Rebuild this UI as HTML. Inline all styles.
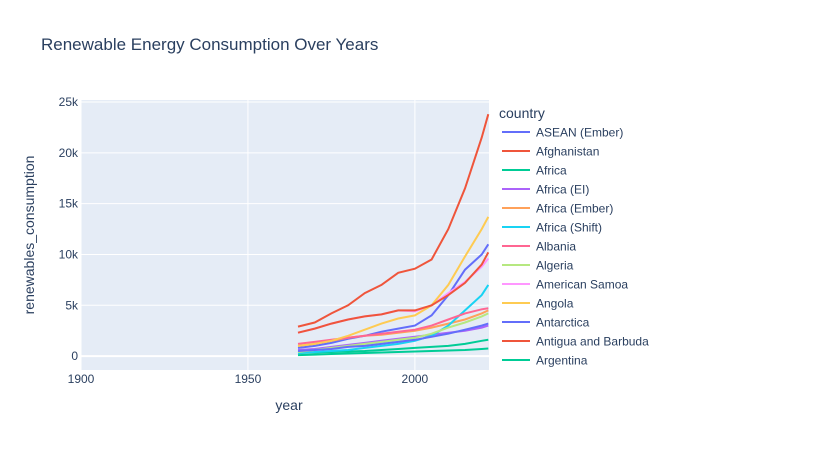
<!DOCTYPE html>
<html><head><meta charset="utf-8"><style>
body{margin:0;background:#fff;font-family:"Liberation Sans",sans-serif}
svg text{font-family:"Liberation Sans",sans-serif;fill:#2a3f5f}
</style></head><body>
<svg id="chart" width="834" height="450">
<text x="41" y="50" font-size="17">Renewable Energy Consumption Over Years</text>
<rect x="81" y="100" width="408" height="270" fill="#e5ecf6"/>
<g id="grid"></g><g id="lines"></g><g id="ticks"></g>
<text x="289" y="410" font-size="14" text-anchor="middle">year</text>
<text transform="translate(34,235) rotate(-90)" font-size="14" text-anchor="middle">renewables_consumption</text>
<text x="499" y="118" font-size="14">country</text>
<g id="legend"></g>
</svg>
<script>
const years=[1965,1970,1975,1980,1985,1990,1995,2000,2005,2010,2015,2020,2022];
const countries=["ASEAN (Ember)","Afghanistan","Africa","Africa (EI)","Africa (Ember)","Africa (Shift)","Albania","Algeria","American Samoa","Angola","Antarctica","Antigua and Barbuda","Argentina"];
const xTicks=[1900,1950,2000];
const yTicks=[0,5000,10000,15000,20000,25000];
const yTickLabels=["0","5k","10k","15k","20k","25k"];
const seriesA=[0.8,1.0,1.3,1.7,2.0,2.4,2.7,3.0,4.0,6.0,8.5,10.0,11.0];
const seriesB=[2.9,3.3,4.2,5.0,6.2,7.0,8.2,8.6,9.5,12.5,16.5,21.5,23.8];
const seriesC=[0.3,0.35,0.4,0.45,0.5,0.6,0.7,0.8,0.9,1.0,1.2,1.5,1.6];
const seriesD=[0.6,0.7,0.9,1.1,1.3,1.5,1.7,1.9,2.1,2.3,2.5,2.8,3.0];
const seriesE=[1.0,1.2,1.5,1.8,2.0,2.1,2.3,2.5,2.8,3.2,3.6,4.2,4.5];
const seriesF=[0.3,0.4,0.5,0.6,0.8,1.0,1.2,1.5,2.0,3.0,4.5,6.0,7.0];
const seriesG=[1.2,1.4,1.6,1.8,2.0,2.2,2.4,2.6,3.0,3.6,4.2,4.6,4.7];
const seriesH=[0.4,0.6,0.8,1.0,1.2,1.4,1.6,1.8,2.2,2.8,3.3,3.9,4.2];
const seriesI=[2.3,2.7,3.2,3.6,3.9,4.1,4.5,4.4,5.0,6.2,7.3,8.8,9.6];
const seriesJ=[1.0,1.2,1.5,2.0,2.6,3.2,3.7,4.0,5.0,7.0,9.8,12.5,13.7];
const seriesK=[0.5,0.6,0.7,0.9,1.0,1.2,1.4,1.6,1.9,2.2,2.6,3.0,3.2];
const seriesL=[2.3,2.7,3.2,3.6,3.9,4.1,4.5,4.5,5.0,6.0,7.2,9.0,10.2];
const seriesM=[0.1,0.15,0.2,0.25,0.3,0.35,0.4,0.45,0.5,0.55,0.6,0.7,0.75];
const series=[seriesA,seriesB,seriesC,seriesD,seriesE,seriesF,seriesG,seriesH,seriesI,seriesJ,seriesK,seriesL,seriesM];
const colors=["#636efa","#EF553B","#00cc96","#ab63fa","#FFA15A","#19d3f3","#FF6692","#B6E880","#FF97FF","#FECB52","#636efa","#EF553B","#00cc96"];
const NS="http://www.w3.org/2000/svg";
const X0=81,X1=489,Y0=370,Y1=100,xmin=1900,xmax=2022.2,ymin=-1370,ymax=25200;
function xs(v){return X0+(v-xmin)/(xmax-xmin)*(X1-X0);}
function ys(v){return Y0-(v-ymin)/(ymax-ymin)*(Y0-Y1);}
function mk(t,a,p){const e=document.createElementNS(NS,t);for(const k in a)e.setAttribute(k,a[k]);p.appendChild(e);return e;}
const grid=document.getElementById('grid'),ticks=document.getElementById('ticks'),lines=document.getElementById('lines'),legend=document.getElementById('legend');
xTicks.forEach(v=>{
 const l=mk('line',{x1:xs(v),x2:xs(v),y1:Y1,y2:Y0,stroke:'#fff','stroke-width':1},grid);
 
 
 const t=mk('text',{x:xs(v),y:Y0+13,'font-size':12,'text-anchor':'middle'},ticks);t.textContent=v;
 
 
});
yTicks.forEach((v,i)=>{
 const l=mk('line',{x1:X0,x2:X1,y1:ys(v),y2:ys(v),stroke:'#fff','stroke-width':v===0?2:1},grid);
 
 
 const t=mk('text',{x:X0-3,y:ys(v)+4,'font-size':12,'text-anchor':'end'},ticks);t.textContent=yTickLabels[i];
 
 
});
series.forEach((s,i)=>{
 const d=s.map((v,j)=>(j?'L':'M')+xs(years[j]).toFixed(1)+','+ys(v*1000).toFixed(1)).join('');
 const p=mk('path',{d:d,fill:'none',stroke:colors[i],'stroke-width':2},lines);
 
 
});
countries.forEach((c,i)=>{
 const y=132+i*19;
 const g=mk('g',{},legend);
 
 
 mk('line',{x1:502,x2:530,y1:y,y2:y,stroke:colors[i],'stroke-width':2},g);
 const t=mk('text',{x:536,y:y+4.5,'font-size':12},g);t.textContent=c;
});
</script>
</body></html>
